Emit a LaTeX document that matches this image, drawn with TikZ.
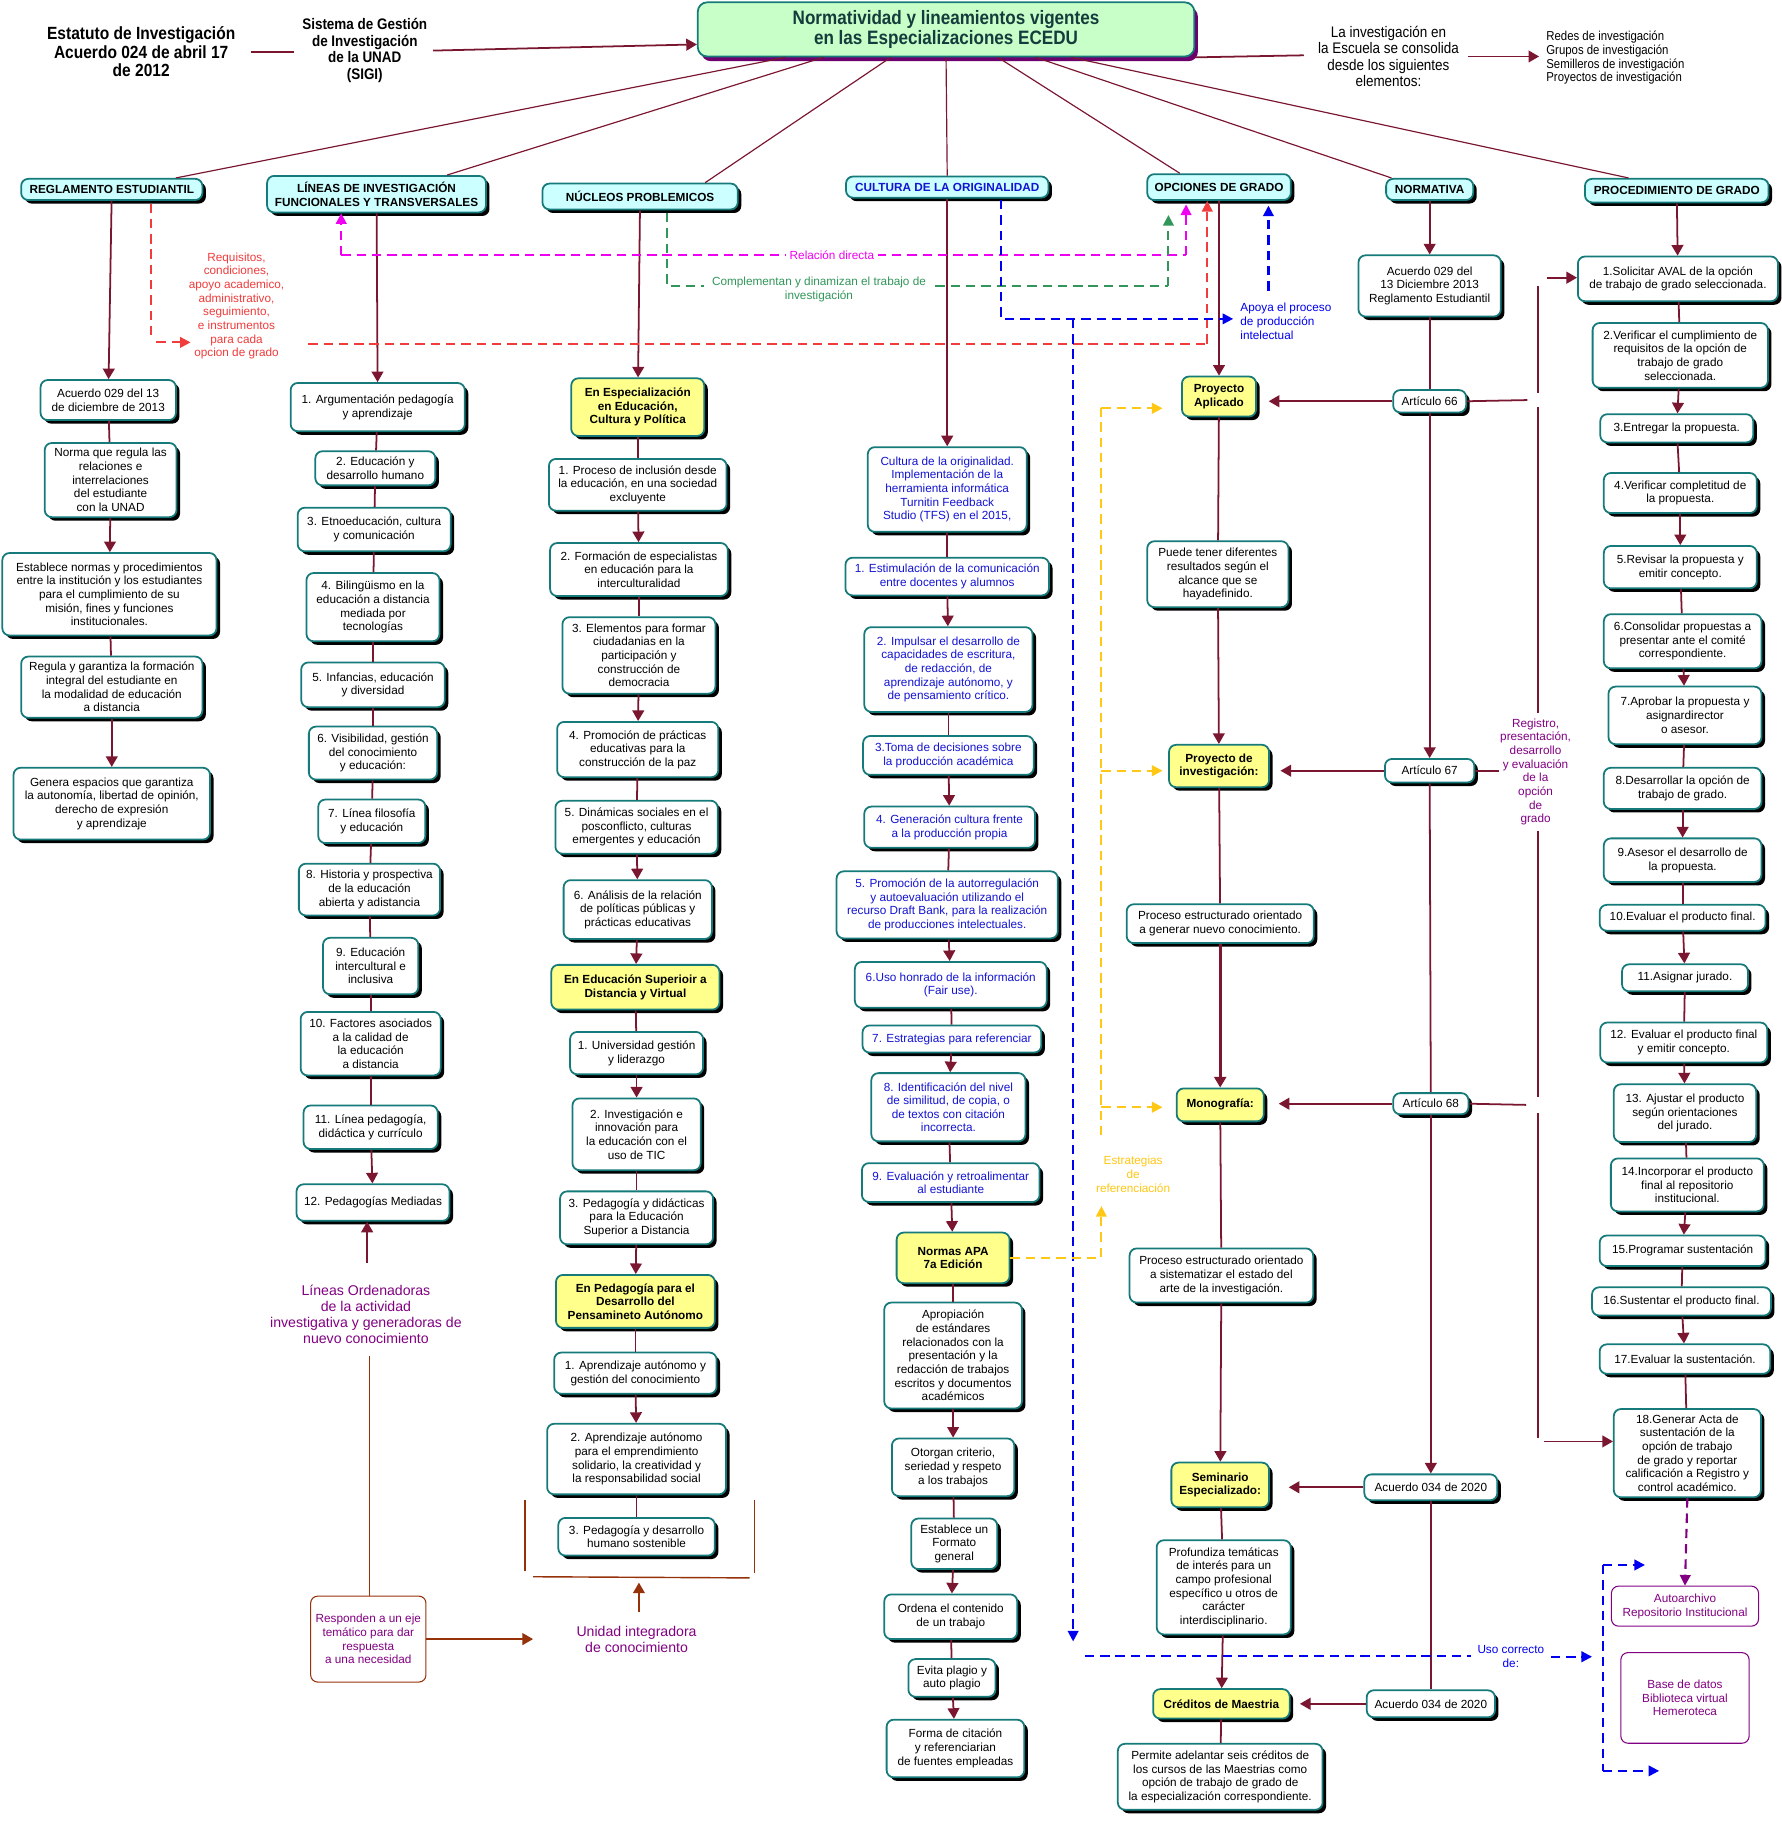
\documentclass[tikz,border=0pt]{standalone}
\usepackage{fontspec}
\setmainfont{Liberation Sans}
\newfontfamily\narrowf{Liberation Sans}[FakeStretch=0.88]
\usetikzlibrary{arrows.meta,shadows,calc}
\definecolor{mred}{RGB}{122,22,48}
\definecolor{tealb}{RGB}{22,122,122}
\definecolor{cyanf}{RGB}{204,255,255}
\definecolor{yelf}{RGB}{255,255,140}
\definecolor{grnf}{RGB}{200,255,200}
\definecolor{titc}{RGB}{20,60,60}
\definecolor{bluet}{RGB}{20,20,210}
\definecolor{blued}{RGB}{0,0,240}
\definecolor{magd}{RGB}{240,0,240}
\definecolor{grnd}{RGB}{50,150,90}
\definecolor{redd}{RGB}{240,60,60}
\definecolor{yeld}{RGB}{255,200,20}
\definecolor{purp}{RGB}{130,0,130}
\definecolor{brn}{RGB}{150,50,10}
\definecolor{shpur}{RGB}{110,0,110}
\newcommand{\mkbox}[7]{\node[#1,minimum width=#5pt,minimum height=#6pt] (#2) at (#3,#4) {#7};}
\begin{document}
\begin{tikzpicture}[x=1pt,y=-1pt,font=\fontsize{10}{11.6}\selectfont,
 bx/.style={draw=tealb,line width=1.5pt,fill=white,rounded corners=6pt,align=center,inner sep=1.5pt,
   drop shadow={shadow xshift=3pt,shadow yshift=-3pt,opacity=1,fill=black}},
 hd/.style={bx,fill=cyanf,font=\fontsize{10}{11.4}\selectfont\bfseries},
 yb/.style={bx,fill=yelf,font=\fontsize{10}{11.6}\selectfont\bfseries},
 bt/.style={bx,text=bluet},
 pb/.style={draw=purp,line width=0.9pt,rounded corners=6pt,align=center,text=purp},
 ln/.style={draw=mred,line width=1.5pt},
 ar/.style={ln,-{Triangle[width=10pt,length=9pt]}},
 tl/.style={draw=mred,line width=1pt},
 dsh/.style={line width=1.8pt,dash pattern=on 8pt off 5pt},
 dar/.style={dsh,-{Triangle[width=9pt,length=9pt]}},
 txt/.style={align=center,inner sep=0pt},
 bar/.style={draw=brn,line width=1.5pt,-{Triangle[width=10pt,length=9pt]}},
]
\fill[white] (0,0) rectangle (1514,1568);
\useasboundingbox (0,0) rectangle (1514,1568);

% ---------- top ----------
\node[draw=tealb,line width=1.5pt,fill=grnf,rounded corners=8pt,minimum width=422pt,minimum height=46pt,align=center,text=titc,
 font=\narrowf\fontsize{16.5}{17.5}\selectfont\bfseries,
 drop shadow={shadow xshift=3pt,shadow yshift=-4pt,opacity=1,fill=shpur}] (tit) at (804,25)
 {Normatividad y lineamientos vigentes\\en las Especializaciones ECEDU};
\node[txt,font=\narrowf\fontsize{15}{15.5}\selectfont\bfseries] (estat) at (120,44) {Estatuto de Investigación\\Acuerdo 024 de abril 17\\de 2012};
\node[txt,font=\narrowf\fontsize{13}{14}\selectfont\bfseries] (sigi) at (310,43) {Sistema de Gestión\\de Investigación\\de la UNAD\\(SIGI)};
\node[txt,font=\narrowf\fontsize{13}{13.7}\selectfont] (lainv) at (1180,48) {La investigación en\\la Escuela se consolida\\desde los siguientes\\elementos:};
\node[txt,anchor=west,align=left,font=\narrowf\fontsize{11}{11.8}\selectfont] (redes) at (1314,49) {Redes de investigación\\Grupos de investigación\\Semilleros de investigación\\Proyectos de investigación};

\coordinate (e1) at (213,44); \coordinate (e2) at (250,44);
\draw[ln] (e1) -- (e2);
\coordinate (s0) at (368,43);
\draw[ar] (s0) -- ($(tit.south west)+(0,-11)$);
\coordinate (li0) at (1108,47);
\draw[ln] (tit.south east) -- (li0);
\coordinate (li1) at (1248,48); \coordinate (li2) at (1308,48);
\draw[ar] (li1) -- (li2);

% ---------- headers ----------
\mkbox{hd}{reg}{95}{161}{154}{18}{REGLAMENTO ESTUDIANTIL}
\mkbox{hd}{lin}{320}{165}{186}{31}{LÍNEAS DE INVESTIGACIÓN\\FUNCIONALES Y TRANSVERSALES}
\mkbox{hd}{nuc}{544}{167}{166}{22}{NÚCLEOS PROBLEMICOS}
\mkbox{hd,text=bluet}{cul}{805}{159}{172}{18}{CULTURA DE LA ORIGINALIDAD}
\mkbox{hd}{opc}{1036}{159}{122}{22}{OPCIONES DE GRADO}
\mkbox{hd}{nor}{1215}{161}{74}{18}{NORMATIVA}
\mkbox{hd}{pro}{1425}{162}{156}{20}{PROCEDIMIENTO DE GRADO}

\draw[tl] ($(tit.south west)!0.178!(tit.south east)$) -- ($(reg.north west)!0.85!(reg.north east)$);
\draw[tl] ($(tit.south west)!0.254!(tit.south east)$) -- ($(lin.north west)!0.82!(lin.north east)$);
\draw[tl] ($(tit.south west)!0.389!(tit.south east)$) -- ($(nuc.north west)!0.83!(nuc.north east)$);
\draw[tl] ($(tit.south west)!0.5!(tit.south east)$) -- (cul.north);
\draw[tl] ($(tit.south west)!0.604!(tit.south east)$) -- ($(opc.north west)!0.23!(opc.north east)$);
\draw[tl] ($(tit.south west)!0.68!(tit.south east)$) -- ($(nor.north west)!0.07!(nor.north east)$);
\draw[tl] ($(tit.south west)!0.751!(tit.south east)$) -- ($(pro.north west)!0.24!(pro.north east)$);

% ---------- column 1 ----------
\mkbox{bx}{a029}{92}{340}{115}{34}{Acuerdo 029 del 13\\de diciembre de 2013}
\mkbox{bx}{norma}{94}{408}{112}{63}{Norma que regula las\\relaciones e\\interrelaciones\\del estudiante\\con la UNAD}
\mkbox{bx}{estab}{93}{505}{182}{70}{Establece normas y procedimientos\\entre la institución y los estudiantes\\para el cumplimiento de su\\misión, fines y funciones\\institucionales.}
\mkbox{bx}{regu}{95}{584}{154}{52}{Regula y garantiza la formación\\integral del estudiante en\\la modalidad de educación\\a distancia}
\mkbox{bx}{gen}{95}{683}{167}{61}{Genera espacios que garantiza\\la autonomía, libertad de opinión,\\derecho de expresión\\y aprendizaje}
\draw[ar] (reg) -- (a029);
\draw[ln] (a029) -- (norma);
\draw[ar] (norma) -- (estab);
\draw[ln] (estab) -- (regu);
\draw[ar] (regu) -- (gen);

\node[txt,text=redd] (req) at (201,260) {Requisitos,\\condiciones,\\apoyo academico,\\administrativo,\\seguimiento,\\e instrumentos\\para cada\\opcion de grado};

% ---------- column 2 ----------
\mkbox{bx}{l1}{321}{346}{148}{41}{1. Argumentación pedagogía\\y aprendizaje}
\mkbox{bx}{l2}{319}{398}{102}{29}{2. Educación y\\desarrollo humano}
\mkbox{bx}{l3}{318}{450}{130}{37}{3. Etnoeducación, cultura\\y comunicación}
\mkbox{bx}{l4}{317}{516}{113}{58}{4. Bilingüismo en la\\educación a distancia\\mediada por\\tecnologías}
\mkbox{bx}{l5}{317}{582}{122}{38}{5. Infancias, educación\\y diversidad}
\mkbox{bx}{l6}{317}{640}{109}{45}{6. Visibilidad, gestión\\del conocimiento\\y educación:}
\mkbox{bx}{l7}{316}{698}{91}{37}{7. Línea filosofía\\y educación}
\mkbox{bx}{l8}{314}{756}{120}{44}{8. Historia y prospectiva\\de la educación\\abierta y adistancia}
\mkbox{bx}{l9}{315}{821}{81}{48}{9. Educación\\intercultural e\\inclusiva}
\mkbox{bx}{l10}{315}{887}{119}{54}{10. Factores asociados\\a la calidad de\\la educación\\a distancia}
\mkbox{bx}{l11}{315}{958}{114}{37}{11. Línea pedagogía,\\didáctica y currículo}
\mkbox{bx}{l12}{317}{1022}{130}{31}{12. Pedagogías Mediadas}
\draw[ar] (lin) -- (l1);
\draw[ln] (l1) -- (l2);
\draw[ln] (l2) -- (l3);
\draw[ln] (l3) -- (l4);
\draw[ln] (l4) -- (l5);
\draw[ln] (l5) -- (l6);
\draw[ln] (l6) -- (l7);
\draw[ln] (l7) -- (l8);
\draw[ln] (l8) -- (l9);
\draw[ln] (l9) -- (l10);
\draw[ln] (l10) -- (l11);
\draw[ar] (l11) -- (l12);

\node[txt,text=purp,font=\fontsize{12}{13.7}\selectfont] (lord) at (311,1117) {Líneas Ordenadoras\\de la actividad\\investigativa y generadoras de\\nuevo conocimiento};
\node[draw=brn,line width=0.9pt,rounded corners=6pt,align=center,text=purp,minimum width=98pt,minimum height=73pt,inner sep=1pt] (resp) at (313,1393) {Responden a un eje\\temático para dar\\respuesta\\a una necesidad};
\node[txt,text=purp,font=\fontsize{12}{13.7}\selectfont] (unid) at (541,1393) {Unidad integradora\\de conocimiento};
\coordinate (lu) at (312,1073);
\draw[ar] (lu) -- (lu |- l12.south);
\coordinate (lo1) at (314,1152);
\draw[draw=brn,line width=1.2pt] (lo1) -- (lo1 |- resp.north);
\coordinate (ub) at (453,1393);
\draw[bar] (resp.east) -- (ub);
\coordinate (uu1) at (543,1370); \coordinate (uu2) at (543,1345);
\draw[bar] (uu1) -- (uu2);
\coordinate (k1) at (446,1275); \coordinate (k2) at (446,1335);
\coordinate (k3) at (641,1275); \coordinate (k4) at (641,1337);
\coordinate (k5) at (453,1340); \coordinate (k6) at (637,1341);
\draw[draw=brn,line width=1.2pt] (k1) -- (k2);
\draw[draw=brn,line width=1.2pt] (k3) -- (k4);
\draw[draw=brn,line width=1.2pt] (k5) -- (k6);

% ---------- column 3 ----------
\mkbox{yb}{ne1}{542}{346}{113}{49}{En Especialización\\en Educación,\\Cultura y Política}
\mkbox{bx}{n1}{542}{412}{151}{44}{1. Proceso de inclusión desde\\la educación, en una sociedad\\excluyente}
\mkbox{bx}{n2}{543}{484}{151}{45}{2. Formación de especialistas\\en educación para la\\interculturalidad}
\mkbox{bx}{n3}{543}{557}{130}{65}{3. Elementos para formar\\ciudadanias en la\\participación y\\construcción de\\democracia}
\mkbox{bx}{n4}{542}{637}{137}{47}{4. Promoción de prácticas\\educativas para la\\construcción de la paz}
\mkbox{bx}{n5}{541}{703}{138}{45}{5. Dinámicas sociales en el\\posconflicto, culturas\\emergentes y educación}
\mkbox{bx}{n6}{542}{773}{126}{50}{6. Análisis de la relación\\de políticas públicas y\\prácticas educativas}
\mkbox{yb}{ne2}{540}{839}{143}{38}{En Educación Superioir a\\Distancia y Virtual}
\mkbox{bx}{m1}{541}{895}{113}{36}{1. Universidad gestión\\y liderazgo}
\mkbox{bx}{m2}{541}{964}{109}{61}{2. Investigación e\\innovación para\\la educación con el\\uso de TIC}
\mkbox{bx}{m3}{541}{1035}{130}{45}{3. Pedagogía y didácticas\\para la Educación\\Superior a Distancia}
\mkbox{yb}{ne3}{540}{1106}{135}{45}{En Pedagogía para el\\Desarrollo del\\Pensamineto Autónomo}
\mkbox{bx}{p1}{540}{1167}{138}{35}{1. Aprendizaje autónomo y\\gestión del conocimiento}
\mkbox{bx}{p2}{541}{1240}{152}{60}{2. Aprendizaje autónomo\\para el emprendimiento\\solidario, la creatividad y\\la responsabilidad social}
\mkbox{bx}{p3}{541}{1306}{133}{32}{3. Pedagogía y desarrollo\\humano sostenible}
\draw[ar] (nuc) -- (ne1);
\draw[ln] (ne1) -- (n1);
\draw[ar] (n1) -- (n2);
\draw[ln] (n2) -- (n3);
\draw[ar] (n3) -- (n4);
\draw[ln] (n4) -- (n5);
\draw[ar] (n5) -- (n6);
\draw[ar] (n6) -- (ne2);
\draw[ln] (ne2) -- (m1);
\draw[ar] (m1) -- (m2);
\draw[ln] (m2) -- (m3);
\draw[ar] (m3) -- (ne3);
\draw[ln] (ne3) -- (p1);
\draw[ar] (p1) -- (p2);
\draw[ln] (p2) -- (p3);

% ---------- column 4 ----------
\mkbox{bt}{c0}{805}{416}{135}{72}{Cultura de la originalidad.\\Implementación de la\\herramienta informática\\Turnitin Feedback\\Studio (TFS) en el 2015,}
\mkbox{bt}{c1}{805}{490}{173}{32}{1. Estimulación de la comunicación\\entre docentes y alumnos}
\mkbox{bt}{c2}{806}{569}{143}{72}{2. Impulsar el desarrollo de\\capacidades de escritura,\\de redacción, de\\aprendizaje autónomo, y\\de pensamiento crítico.}
\mkbox{bt}{c3}{806}{642}{145}{33}{3.Toma de decisiones sobre\\la producción académica}
\mkbox{bt}{c4}{807}{703}{145}{35}{4. Generación cultura frente\\a la producción propia}
\mkbox{bt}{c5}{805}{769}{188}{57}{5. Promoción de la autorregulación\\y autoevaluación utilizando el\\recurso Draft Bank, para la realización\\de producciones intelectuales.}
\mkbox{bt}{c6}{808}{837}{163}{39}{6.Uso honrado de la información\\(Fair use).}
\mkbox{bt}{c7}{809}{883}{152}{23}{7. Estrategias para referenciar}
\mkbox{bt}{c8}{806}{941}{131}{58}{8. Identificación del nivel\\de similitud, de copia, o\\de textos con citación\\incorrecta.}
\mkbox{bt}{c9}{808}{1005}{151}{33}{9. Evaluación y retroalimentar\\al estudiante}
\mkbox{yb}{apa}{810}{1069}{96}{43}{Normas APA\\7a Edición}
\mkbox{bx}{ap1}{810}{1152}{117}{90}{Apropiación\\de estándares\\relacionados con la\\presentación  y la\\redacción de trabajos\\escritos y documentos\\académicos}
\mkbox{bx}{ap2}{810}{1247}{104}{49}{Otorgan criterio,\\seriedad y respeto\\a los trabajos}
\mkbox{bx}{ap3}{811}{1312}{73}{43}{Establece un\\Formato\\general}
\mkbox{bx}{ap4}{808}{1374}{113}{38}{Ordena el contenido\\de un trabajo}
\mkbox{bx}{ap5}{809}{1426}{74}{32}{Evita plagio y\\auto plagio}
\mkbox{bx}{ap6}{812}{1486}{117}{49}{Forma de citación\\y referenciarian\\de fuentes empleadas}
\draw[ar] (cul) -- (c0);
\draw[ln] (c0) -- (c1);
\draw[ar] (c1) -- (c2);
\draw[ln] (c2) -- (c3);
\draw[ar] (c3) -- (c4);
\draw[ln] (c4) -- (c5);
\draw[ar] (c5) -- (c6);
\draw[ln] (c6) -- (c7);
\draw[ar] (c7) -- (c8);
\draw[ln] (c8) -- (c9);
\draw[ar] (c9) -- (apa);
\draw[ln] (apa) -- (ap1);
\draw[ar] (ap1) -- (ap2);
\draw[ln] (ap2) -- (ap3);
\draw[ar] (ap3) -- (ap4);
\draw[ln] (ap4) -- (ap5);
\draw[ar] (ap5) -- (ap6);

% ---------- column 5 ----------
\mkbox{yb}{pa}{1036}{337}{63}{34}{Proyecto\\Aplicado}
\mkbox{bx}{pa1}{1035}{488}{120}{56}{Puede tener diferentes\\resultados según el\\alcance que se\\hayadefinido.}
\mkbox{yb}{pi}{1036}{651}{85}{36}{Proyecto de\\investigación:}
\mkbox{bx}{pi1}{1037}{785}{159}{33}{Proceso estructurado orientado\\a generar nuevo conocimiento.}
\mkbox{yb}{mo}{1037}{939}{74}{28}{Monografía:}
\mkbox{bx}{mo1}{1038}{1084}{156}{46}{Proceso estructurado orientado\\a sistematizar el estado del\\arte de la investigación.}
\mkbox{yb}{se}{1037}{1262}{83}{38}{Seminario\\Especializado:}
\mkbox{bx}{se1}{1040}{1349}{114}{80}{Profundiza temáticas\\de interés para un\\campo profesional\\específico u otros de\\carácter\\interdisciplinario.}
\mkbox{yb}{cm}{1038}{1448}{116}{25}{Créditos de Maestria}
\mkbox{bx}{cm1}{1037}{1510}{174}{56}{Permite adelantar seis créditos de\\los cursos de las Maestrias como\\opción de trabajo de grado de\\la especialización correspondiente.}
\draw[ar] (opc) -- (pa);
\draw[ln] (pa) -- (pa1);
\draw[ar] (pa1) -- (pi);
\draw[ln] (pi) -- (pi1);
\draw[ar,line width=2.5pt] (pi1) -- (mo);
\draw[ln] (mo) -- (mo1);
\draw[ar] (mo1) -- (se);
\draw[ln] (se) -- (se1);
\draw[ar] (se1) -- (cm);
\draw[ln] (cm) -- (cm1);

% ---------- column 6 ----------
\mkbox{bx}{nac}{1215}{243}{121}{52}{Acuerdo 029 del\\13 Diciembre 2013\\Reglamento Estudiantil}
\mkbox{bx}{a66}{1215}{341}{62}{19}{Artículo 66}
\mkbox{bx}{a67}{1215}{655}{76}{20}{Artículo 67}
\mkbox{bx}{a68}{1216}{938}{64}{18}{Artículo 68}
\mkbox{bx}{ac1}{1216}{1264}{113}{22}{Acuerdo 034 de 2020}
\mkbox{bx}{ac2}{1216}{1448}{109}{23}{Acuerdo 034 de 2020}
\draw[ar] (nor) -- (nac);
\draw[ln] (nac) -- (a66);
\draw[ar] (a66) -- (a67);
\draw[ln] (a67) -- (a68);
\draw[ar] (a68) -- (ac1);
\draw[ln] (ac1) -- (ac2);
\draw[ar,shorten >=10pt] (a66.west) -- (a66.west -| pa.east);
\draw[ar,shorten >=9pt] (a67.west) -- (a67.west -| pi.east);
\draw[ar,shorten >=12pt] (a68.west) -- (a68.west -| mo.east);
\draw[ar,shorten >=16pt] (ac1.west) -- (ac1.west -| se.east);
\draw[ar,shorten >=8pt] (ac2.west) -- (ac2.west -| cm.east);
\coordinate (r66) at (1298,340); \draw[ln] (a66.east) -- (r66);
\coordinate (r67) at (1274,655); \draw[ln] (a67.east) -- (r67);
\coordinate (r68) at (1297,939); \draw[ln] (a68.east) -- (r68);

\node[txt,text=purp] (regis) at (1305,656) {Registro,\\presentación,\\desarrollo\\y evaluación\\de la\\opción\\de\\grado};
\coordinate (v1) at (1307,243); \coordinate (v2) at (1307,334);
\coordinate (v3) at (1307,346); \coordinate (v4) at (1307,606);
\coordinate (v5) at (1307,706); \coordinate (v6) at (1307,932);
\coordinate (v7) at (1307,946); \coordinate (v8) at (1307,1222);
\draw[ln] (v1) -- (v2); \draw[ln] (v3) -- (v4); \draw[ln] (v5) -- (v6); \draw[ln] (v7) -- (v8);

% ---------- column 7 ----------
\mkbox{bx}{s1}{1426}{237}{170}{38}{1.Solicitar AVAL de  la opción\\de trabajo de grado seleccionada.}
\mkbox{bx}{s2}{1428}{302}{149}{55}{2.Verificar el cumplimiento de\\requisitos de la opción de\\trabajo de grado\\seleccionada.}
\mkbox{bx}{s3}{1425}{364}{130}{24}{3.Entregar la propuesta.}
\mkbox{bx}{s4}{1428}{419}{130}{34}{4.Verificar completitud de\\la propuesta.}
\mkbox{bx}{s5}{1428}{482}{130}{36}{5.Revisar la propuesta y\\emitir concepto.}
\mkbox{bx}{s6}{1430}{545}{134}{46}{6.Consolidar propuestas a\\presentar ante el comité\\correspondiente.}
\mkbox{bx}{s7}{1432}{608}{130}{49}{7.Aprobar la propuesta y\\asignardirector\\o asesor.}
\mkbox{bx}{s8}{1430}{670}{134}{35}{8.Desarrollar la opción de\\trabajo de grado.}
\mkbox{bx}{s9}{1430}{731}{134}{37}{9.Asesor el desarrollo de\\la propuesta.}
\mkbox{bx}{s10}{1430}{780}{141}{22}{10.Evaluar el producto final.}
\mkbox{bx}{s11}{1432}{831}{107}{23}{11.Asignar jurado.}
\mkbox{bx}{s12}{1431}{886}{142}{34}{12. Evaluar el producto final\\y emitir concepto.}
\mkbox{bx}{s13}{1432}{946}{121}{49}{13. Ajustar el producto\\según orientaciones\\del jurado.}
\mkbox{bx}{s14}{1434}{1007}{130}{45}{14.Incorporar el producto\\final al repositorio\\institucional.}
\mkbox{bx}{s15}{1430}{1063}{141}{26}{15.Programar sustentación}
\mkbox{bx}{s16}{1429}{1106}{152}{24}{16.Sustentar el producto final.}
\mkbox{bx}{s17}{1432}{1155}{145}{25}{17.Evaluar la sustentación.}
\mkbox{bx}{s18}{1434}{1235}{125}{75}{18.Generar Acta de\\sustentación de la\\opción de trabajo\\de grado y reportar\\calificación a Registro y\\control académico.}
\node[pb,minimum width=125pt,minimum height=34pt] (auto) at (1432,1365) {Autoarchivo\\Repositorio Institucional};
\node[pb,minimum width=109pt,minimum height=77pt] (bdd) at (1432,1443) {Base de datos\\Biblioteca virtual\\Hemeroteca};
\draw[ar] (pro) -- (s1);
\draw[ln] (s1) -- (s2);
\draw[ar] (s2) -- (s3);
\draw[ln] (s3) -- (s4);
\draw[ar] (s4) -- (s5);
\draw[ln] (s5) -- (s6);
\draw[ar] (s6) -- (s7);
\draw[ln] (s7) -- (s8);
\draw[ar] (s8) -- (s9);
\draw[ln] (s9) -- (s10);
\draw[ar] (s10) -- (s11);
\draw[ln] (s11) -- (s12);
\draw[ar] (s12) -- (s13);
\draw[ln] (s13) -- (s14);
\draw[ar] (s14) -- (s15);
\draw[ln] (s15) -- (s16);
\draw[ar] (s16) -- (s17);
\draw[ln] (s17) -- (s18);
\coordinate (rg1) at (1315,236);
\draw[ar] (rg1) -- (rg1 -| s1.west);
\coordinate (rg2) at (1312,1225);
\draw[ar] (rg2) -- (rg2 -| s18.west);
\draw[dar,purp] (s18.south) -- (auto.north);

% ---------- dashed relations ----------
% red
\coordinate (rd1) at (128,173); \coordinate (rd2) at (128,287);
\coordinate (rd3) at (133,291); \coordinate (rd4) at (162,291);
\draw[dsh,redd] (rd1) -- (rd2);
\draw[dar,redd] (rd3) -- (rd4);
\coordinate (rd5) at (262,292); \coordinate (rd6) at (1026,292);
\draw[dsh,redd] (rd5) -- (rd6);
\draw[dar,redd] (rd6) -- (rd6 |- opc.south);
% magenta
\coordinate (mg1) at (290,217); \coordinate (mg2) at (1008,217);
\draw[dsh,magd] (mg1) -- (mg2);
\draw[dar,magd] (mg1) -- (mg1 |- lin.south);
\draw[dar,magd,shorten >=3pt] (mg2) -- (mg2 |- opc.south);
\node[txt,text=magd,fill=white,inner xsep=3pt] (reldir) at (707,217) {Relación directa};
% green
\coordinate (gr1) at (567,181); \coordinate (gr2) at (567,243); \coordinate (gr3) at (598,243);
\coordinate (gr4) at (795,243); \coordinate (gr5) at (993,243);
\draw[dsh,grnd] (gr1) -- (gr2) -- (gr3);
\draw[dsh,grnd] (gr4) -- (gr5);
\draw[dar,grnd,shorten >=12pt] (gr5) -- (gr5 |- opc.south);
\node[txt,text=grnd] (compl) at (696,246) {Complementan y dinamizan el trabajo de\\investigación};
% blue
\coordinate (bl1) at (851,170); \coordinate (bl2) at (851,271); \coordinate (bl3) at (1048,271);
\draw[dar,blued] (bl1) -- (bl2) -- (bl3);
\coordinate (bl4) at (912,271); \coordinate (bl5) at (912,1395);
\draw[dar,blued] (bl4) -- (bl5);
\coordinate (bl6) at (1078,247);
\draw[dar,blued,shorten >=4pt] (bl6) -- (bl6 |- opc.south);
\node[txt,text=blued,anchor=west,align=left] (apoya) at (1054,273) {Apoya el proceso\\de producción\\intelectual};
\coordinate (bl7) at (922,1407); \coordinate (bl8) at (1250,1407);
\draw[dsh,blued] (bl7) -- (bl8);
\node[txt,text=blued] (uso) at (1284,1408) {Uso correcto\\de:};
\coordinate (bl9) at (1318,1408); \coordinate (bl10) at (1353,1408);
\draw[dar,blued] (bl9) -- (bl10);
\coordinate (bk1) at (1362,1330); \coordinate (bk2) at (1362,1505);
\coordinate (bk3) at (1398,1330); \coordinate (bk4) at (1410,1505);
\draw[dsh,blued] (bk1) -- (bk2);
\draw[dar,blued] (bk1) -- (bk3);
\draw[dar,blued] (bk2) -- (bk4);
% yellow
\coordinate (ya) at (936,1069); \coordinate (yb) at (936,1025);
\draw[dar,yeld] (apa.east) -- (ya) -- (yb);
\node[txt,text=yeld] (estr) at (963,998) {Estrategias\\de\\referenciación};
\coordinate (yt) at (936,347); \coordinate (yl) at (936,965);
\draw[dsh,yeld] (yl) -- (yt);
\coordinate (ye1) at (988,347); \coordinate (ym2) at (936,655); \coordinate (ye2) at (988,655);
\coordinate (ym3) at (936,941); \coordinate (ye3) at (988,941);
\draw[dar,yeld] (yt) -- (ye1);
\draw[dar,yeld] (ym2) -- (ye2);
\draw[dar,yeld] (ym3) -- (ye3);
\end{tikzpicture}
\end{document}
